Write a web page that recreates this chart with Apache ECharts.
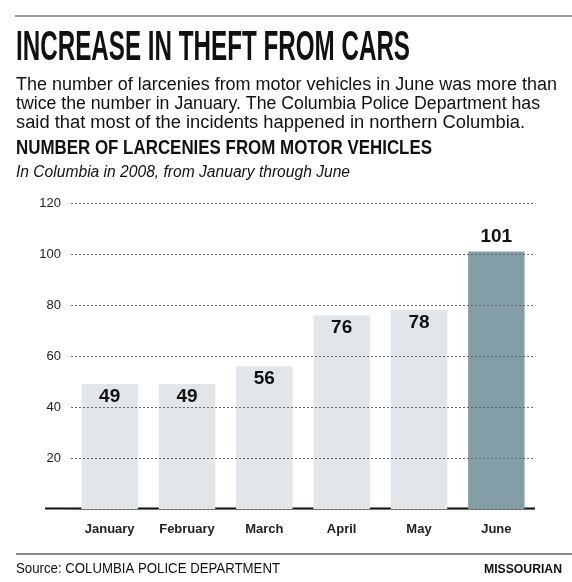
<!DOCTYPE html>
<html>
<head>
<meta charset="utf-8">
<script src="https://cdn.jsdelivr.net/npm/echarts@6/dist/echarts.min.js"></script>
<style>
  html, body { margin: 0; padding: 0; background: #fff; }
  #chart { width: 572px; height: 582px; }
</style>
</head>
<body>
<div id="chart"></div>
<script>
var months = ['January', 'February', 'March', 'April', 'May', 'June'];
var larcenies = [49, 49, 56, 76, 78, 101];
var yTicks = [0, 20, 40, 60, 80, 100, 120];

var barData = larcenies.map(function (v, i) {
    var last = i === larcenies.length - 1;
    return {
        value: v,
        itemStyle: { color: last ? '#839ea7' : '#e1e6ea' },
        label: last ? { position: 'top', distance: 5 } : { position: 'insideTop', distance: 3 }
    };
});

// squeeze a text line to the width it takes in the printed graphic
var ctx = document.createElement('canvas').getContext('2d');
function textLine(text, x, y, font, width, align) {
    ctx.font = font;
    var w = ctx.measureText(text).width;
    return {
        type: 'text',
        x: x, y: y,
        scaleX: width ? width / w : 1,
        style: { x: 0, y: 0, text: text, font: font, fill: '#111',
            textAlign: align || 'left', textVerticalAlign: 'middle' }
    };
}

var chart = echarts.init(document.getElementById('chart'));
chart.setOption({
    animation: false,
    grid: { left: 71, right: 37, top: 203, bottom: 73 },
    xAxis: {
        type: 'category',
        data: months,
        axisLine: { show: false },
        axisTick: { show: false },
        axisLabel: {
            margin: 14,
            color: '#222',
            fontSize: 13,
            fontFamily: 'Liberation Sans, Arial, sans-serif',
            fontWeight: 'bold'
        }
    },
    yAxis: {
        type: 'value',
        min: yTicks[0],
        max: yTicks[yTicks.length - 1],
        interval: 20,
        z: 5,
        axisLine: { show: false },
        axisTick: { show: false },
        axisLabel: {
            margin: 10,
            color: '#222',
            fontSize: 13,
            fontFamily: 'Liberation Sans, Arial, sans-serif',
            formatter: function (v) { return v === 0 ? '' : v; }
        },
        splitLine: { lineStyle: { color: '#666', type: [2, 2], width: 1 } }
    },
    series: [{
        type: 'bar',
        data: barData,
        barCategoryGap: '27%',
        label: {
            show: true,
            color: '#111',
            fontSize: 19,
            fontWeight: 'bold',
            fontFamily: 'Liberation Sans, Arial, sans-serif'
        }
    }],
    graphic: [
        { type: 'line', shape: { x1: 15, y1: 16, x2: 572, y2: 16 }, style: { stroke: '#333', lineWidth: 1 } },
        textLine('INCREASE IN THEFT FROM CARS', 16, 48, 'bold 43px "Liberation Sans", Arial, sans-serif', 394),
        textLine('The number of larcenies from motor vehicles in June was more than', 16, 85, '18px "Liberation Sans", Arial, sans-serif', 541),
        textLine('twice the number in January. The Columbia Police Department has', 16, 104, '18px "Liberation Sans", Arial, sans-serif', 524),
        textLine('said that most of the incidents happened in northern Columbia.', 16, 123.5, '18px "Liberation Sans", Arial, sans-serif', 509),
        textLine('NUMBER OF LARCENIES FROM MOTOR VEHICLES', 16, 148, 'bold 20px "Liberation Sans", Arial, sans-serif', 416),
        textLine('In Columbia in 2008, from January through June', 16, 173, 'italic 16px "Liberation Sans", Arial, sans-serif', 334),
        { type: 'line', shape: { x1: 45, y1: 508.5, x2: 535, y2: 508.5 }, style: { stroke: '#111', lineWidth: 2 } },
        { type: 'line', shape: { x1: 16, y1: 554, x2: 572, y2: 554 }, style: { stroke: '#888', lineWidth: 2 } },
        textLine('Source: COLUMBIA POLICE DEPARTMENT', 16, 569, '14px "Liberation Sans", Arial, sans-serif', 264),
        textLine('MISSOURIAN', 562, 569, 'bold 13px "Liberation Sans", Arial, sans-serif', 78, 'right')
    ]
});
</script>
</body>
</html>
